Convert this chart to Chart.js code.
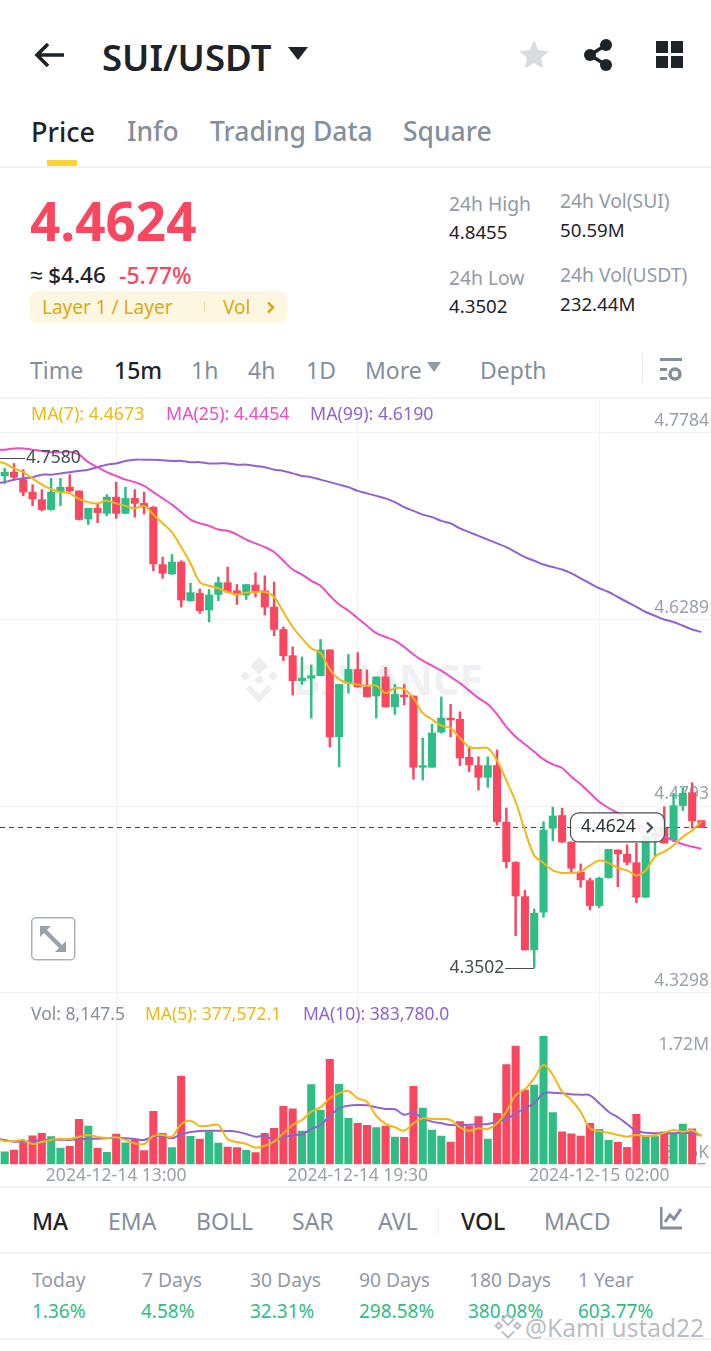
<!DOCTYPE html>
<html>
<head>
<meta charset="utf-8">
<title>SUI/USDT</title>
<script src="https://cdn.jsdelivr.net/npm/chart.js@4/dist/chart.umd.min.js"></script>
<style>
html, body { margin: 0; padding: 0; background: #fff; }
body { position: relative; width: 711px; height: 1351px; overflow: hidden; font-family: "Noto Sans", sans-serif; color: #1e2329; }
.t { position: absolute; transform: translateY(-50%); white-space: nowrap; line-height: 1; }
.grey { color: #848e9c; }
.lab { color: #929aa5; font-size: 19.3px; }
.val { font-size: 18.7px; }
.tf { font-size: 23px; color: #848e9c; }
.ind { font-size: 23px; color: #848e9c; }
.up { color: #2ebd85; font-size: 19px; }
.dark { color: #1e2329; font-weight: 500; }
.rule { position: absolute; left: 0; width: 711px; height: 2px; background: #f1f2f3; }
canvas { position: absolute; left: 0; }
svg { position: absolute; }
</style>
</head>
<body>

<!-- header -->
<svg style="left:33px;top:40px" width="34" height="30" viewBox="0 0 34 30"><path d="M31 15H4M15 4L4 15l11 11" fill="none" stroke="#1e2329" stroke-width="3.6"/></svg>
<span class="t" style="left:102px;top:57px;font-size:36.6px;font-weight:600">SUI/USDT</span>
<svg style="left:288px;top:46px" width="20" height="15"><path d="M0 1h20L10 14z" fill="#1e2329"/></svg>
<svg style="left:518px;top:39px" width="32" height="32" viewBox="0 0 24 24"><path d="M12 1l3.3 7.2 7.7.9-5.7 5.2 1.6 7.7L12 18.1 5.100 22l1.600-7.700L1 9.100l7.700-.9z" fill="#d8dce1"/></svg>
<svg style="left:582px;top:38px" width="32" height="34" viewBox="0 0 32 34"><path d="M24 7L8 17l16 10" fill="none" stroke="#1e2329" stroke-width="3.500"/><circle cx="24" cy="7" r="6" fill="#1e2329"/><circle cx="8" cy="17" r="6" fill="#1e2329"/><circle cx="24" cy="27" r="6" fill="#1e2329"/></svg>
<svg style="left:656px;top:41px" width="27" height="27"><path d="M0 0h12v12H0zM15 0h12v12H15zM0 15h12v12H0zM15 15h12v12H15z" fill="#1e2329"/></svg>

<span class="t dark" style="left:31px;top:131px;font-size:27px">Price</span>
<span class="t grey" style="left:127px;top:131px;font-size:26.5px;font-weight:500">Info</span>
<span class="t grey" style="left:210px;top:131px;font-size:26.5px;font-weight:500">Trading Data</span>
<span class="t grey" style="left:403px;top:131px;font-size:26.5px;font-weight:500">Square</span>
<div style="position:absolute;left:47px;top:160px;width:30px;height:6px;background:#fcd535"></div>
<div class="rule" style="top:166px"></div>

<!-- ticker block -->
<span class="t" style="left:30px;top:220px;font-size:53px;font-weight:700;color:#f9475f">4.4624</span>
<span class="t dark" style="left:30px;top:275px;font-size:22.5px">≈ $4.46</span>
<span class="t" style="left:119px;top:275px;font-size:23px;font-weight:500;color:#f9475f">-5.77%</span>
<div style="position:absolute;left:30px;top:291px;width:257px;height:32px;border-radius:8px;background:#fdf6e0"></div>
<span class="t" style="left:42px;top:307px;font-size:19px;color:#dcaa12">Layer 1 / Layer</span>
<div style="position:absolute;left:204px;top:302px;width:1px;height:10px;background:#eadfb4"></div>
<span class="t" style="left:223px;top:307px;font-size:19px;color:#dcaa12">Vol</span>
<svg style="left:266px;top:301px" width="10" height="13"><path d="M2 1.500L7 6.500 2 11.500" fill="none" stroke="#dcaa12" stroke-width="2.600"/></svg>

<span class="t lab" style="left:449px;top:204px">24h High</span>
<span class="t val" style="left:449px;top:232px">4.8455</span>
<span class="t lab" style="left:560px;top:201px">24h Vol(SUI)</span>
<span class="t val" style="left:560px;top:230px">50.59M</span>
<span class="t lab" style="left:449px;top:278px">24h Low</span>
<span class="t val" style="left:449px;top:306px">4.3502</span>
<span class="t lab" style="left:560px;top:275px">24h Vol(USDT)</span>
<span class="t val" style="left:560px;top:304px">232.44M</span>

<!-- timeframes -->
<span class="t tf" style="left:30px;top:370px">Time</span>
<span class="t tf dark" style="left:114px;top:370px">15m</span>
<span class="t tf" style="left:191px;top:370px">1h</span>
<span class="t tf" style="left:248px;top:370px">4h</span>
<span class="t tf" style="left:306px;top:370px">1D</span>
<span class="t tf" style="left:365px;top:370px">More</span>
<svg style="left:427px;top:362px" width="14" height="11"><path d="M0 0h14L7 10z" fill="#929aa5"/></svg>
<span class="t tf" style="left:480px;top:370px">Depth</span>
<div style="position:absolute;left:642px;top:355px;width:1px;height:27px;background:#e6e8ea"></div>
<svg style="left:659px;top:357px" width="25" height="26"><path d="M1 1h22v3H1zM1 11h7v3H1zM1 20h7v3H1z" fill="#848e9c"/><circle cx="16" cy="17" r="5" fill="none" stroke="#848e9c" stroke-width="3.500"/></svg>
<div class="rule" style="top:397px"></div>

<!-- watermark sits under the transparent canvases -->
<svg style="left:235px;top:656px" width="48" height="48" viewBox="0 0 48 48"><path d="M24 1l9 9-9 9-9-9zM10 15l5 5-5 5-5-5zM38 15l5 5-5 5-5-5zM24 19l5 5-5 5-5-5zM15 29l9 9 9-9 4 4-13 14-13-14z" fill="#eceef1"/></svg>
<span class="t" style="left:293px;top:680px;font-size:41.5px;font-weight:700;color:#eef0f3">BINANCE</span>

<canvas id="priceChart" width="711" height="595" style="top:400px"></canvas>
<canvas id="volChart" width="711" height="190" style="top:995px"></canvas>

<span class="t" style="left:31px;top:414px;font-size:17.8px;color:#f0b90b">MA(7): 4.4673</span>
<span class="t" style="left:166px;top:414px;font-size:17.8px;color:#ec4cc4">MA(25): 4.4454</span>
<span class="t" style="left:310px;top:414px;font-size:17.8px;color:#9163d0">MA(99): 4.6190</span>

<svg style="left:31px;top:917px" width="45" height="44"><rect x="0.750" y="0.750" width="43" height="42" rx="4" fill="#fff" stroke="#a9afb9" stroke-width="1.500"/><path d="M9 9h11l-4 4 15 15 4-4v11H24l4-4-15-15-4 4z" fill="#99a1ae"/></svg>

<span class="t grey" style="left:31px;top:1014px;font-size:17.5px">Vol: 8,147.5</span>
<span class="t" style="left:145px;top:1014px;font-size:17.5px;color:#f0b90b">MA(5): 377,572.1</span>
<span class="t" style="left:303px;top:1014px;font-size:17.5px;color:#9163d0">MA(10): 383,780.0</span>

<!-- indicators -->
<div class="rule" style="top:1186px"></div>
<span class="t ind dark" style="left:32px;top:1221px">MA</span>
<span class="t ind" style="left:108px;top:1221px">EMA</span>
<span class="t ind" style="left:196px;top:1221px">BOLL</span>
<span class="t ind" style="left:292px;top:1221px">SAR</span>
<span class="t ind" style="left:378px;top:1221px">AVL</span>
<div style="position:absolute;left:438px;top:1207px;width:1px;height:28px;background:#eceef0"></div>
<span class="t ind dark" style="left:461px;top:1221px">VOL</span>
<span class="t ind" style="left:544px;top:1221px">MACD</span>
<svg style="left:660px;top:1207px" width="23" height="23"><path d="M1 0v21h21" fill="none" stroke="#848e9c" stroke-width="3"/><path d="M5 15l5-7 4 4 7-10" fill="none" stroke="#848e9c" stroke-width="3"/></svg>
<div class="rule" style="top:1252px"></div>

<span class="t lab" style="left:32px;top:1280px">Today</span>
<span class="t lab" style="left:142px;top:1280px">7 Days</span>
<span class="t lab" style="left:250px;top:1280px">30 Days</span>
<span class="t lab" style="left:359px;top:1280px">90 Days</span>
<span class="t lab" style="left:469px;top:1280px">180 Days</span>
<span class="t lab" style="left:578px;top:1280px">1 Year</span>
<span class="t up" style="left:32px;top:1311px">1.36%</span>
<span class="t up" style="left:141px;top:1311px">4.58%</span>
<span class="t up" style="left:250px;top:1311px">32.31%</span>
<span class="t up" style="left:359px;top:1311px">298.58%</span>
<span class="t up" style="left:468px;top:1311px">380.08%</span>
<span class="t up" style="left:578px;top:1311px">603.77%</span>
<div class="rule" style="top:1338px"></div>

<svg style="left:493px;top:1311px" width="30" height="32" viewBox="0 0 48 48"><path d="M24 3l9 9-9 9-9-9zM9 17l5 5-5 5-5-5zM39 17l5 5-5 5-5-5zM14 31l10 10 10-10" fill="none" stroke="#b9bec5" stroke-width="3"/></svg>
<span class="t" style="left:525px;top:1328px;font-size:24.5px;color:rgba(125,132,142,.55)">@Kami ustad22</span>

<script>
// first entry is the candle just off the left edge
const opens = [4.748,4.744,4.747,4.741,4.731,4.725,4.717,4.731,4.735,4.732,4.7095,4.718,4.714,4.727,4.714,4.726,4.722,4.719,4.673,4.6655,4.675,4.644,4.650,4.6366,4.649,4.6585,4.652,4.6486,4.6566,4.652,4.639,4.621,4.600,4.580,4.582,4.584,4.6046,4.535,4.578,4.589,4.575,4.5677,4.583,4.559,4.5685,4.5677,4.5106,4.5106,4.5387,4.550,4.549,4.5186,4.512,4.5026,4.512,4.4666,4.4345,4.407,4.3643,4.3945,4.4618,4.472,4.4508,4.4265,4.4198,4.3998,4.4222,4.4444,4.441,4.4342,4.4065,4.4538,4.4618,4.4524,4.4799,4.4903,4.4679];
const highs = [4.758,4.750,4.754,4.749,4.737,4.733,4.742,4.742,4.745,4.732,4.718,4.722,4.729,4.739,4.735,4.733,4.731,4.7194,4.679,4.681,4.676,4.658,4.6534,4.653,4.663,4.671,4.657,4.657,4.6665,4.664,4.659,4.623,4.607,4.599,4.5926,4.613,4.6046,4.577,4.601,4.6024,4.5886,4.583,4.5907,4.577,4.577,4.5677,4.534,4.545,4.567,4.561,4.555,4.526,4.519,4.519,4.5245,4.478,4.435,4.412,4.397,4.467,4.4786,4.4778,4.4508,4.4332,4.4217,4.4225,4.4449,4.4444,4.4484,4.4498,4.4556,4.463,4.479,4.4898,4.4938,4.4983,4.4679];
const lows = [4.744,4.738,4.741,4.728,4.720,4.716,4.7165,4.720,4.731,4.7087,4.705,4.7066,4.712,4.710,4.7135,4.711,4.7135,4.668,4.662,4.665,4.639,4.6436,4.634,4.627,4.644,4.6505,4.641,4.645,4.647,4.6326,4.616,4.596,4.5685,4.577,4.550,4.5838,4.527,4.511,4.570,4.5747,4.567,4.550,4.5587,4.553,4.5605,4.501,4.5004,4.5106,4.538,4.535,4.512,4.507,4.4924,4.4946,4.4644,4.430,4.3757,4.3643,4.3502,4.3905,4.4518,4.4502,4.427,4.4145,4.3963,4.3982,4.4217,4.415,4.4324,4.4022,4.4065,4.4396,4.4498,4.451,4.476,4.4618,4.4624];
const closes = [4.752,4.747,4.743,4.731,4.7255,4.717,4.731,4.735,4.732,4.7091,4.718,4.7146,4.727,4.714,4.726,4.722,4.719,4.6735,4.666,4.675,4.6446,4.6505,4.636,4.6486,4.6585,4.651,4.6486,4.657,4.652,4.639,4.621,4.600,4.580,4.582,4.584,4.6046,4.535,4.577,4.589,4.575,4.567,4.583,4.559,4.569,4.567,4.5106,4.512,4.538,4.550,4.5485,4.518,4.5125,4.5026,4.512,4.467,4.435,4.4075,4.3643,4.3937,4.4604,4.4716,4.4508,4.4297,4.4204,4.3998,4.4217,4.4449,4.4412,4.4345,4.4065,4.4556,4.4572,4.4498,4.4799,4.4898,4.4676,4.4624];

const ma7 = [4.756,4.754,4.750,4.747,4.742,4.737,4.7335,4.731,4.730,4.7255,4.723,4.722,4.724,4.722,4.720,4.718,4.720,4.713,4.706,4.699,4.687,4.674,4.659,4.656,4.654,4.651,4.649,4.6505,4.651,4.651,4.647,4.635,4.623,4.614,4.606,4.602,4.589,4.581,4.578,4.577,4.576,4.576,4.570,4.574,4.573,4.566,4.554,4.549,4.544,4.542,4.534,4.527,4.526,4.526,4.516,4.500,4.483,4.460,4.440,4.434,4.428,4.426,4.426,4.427,4.432,4.436,4.434,4.430,4.428,4.424,4.428,4.439,4.443,4.448,4.455,4.460,4.4673];
const ma25 = [4.765,4.765,4.766,4.766,4.765,4.764,4.763,4.763,4.7634,4.761,4.755,4.751,4.747,4.744,4.741,4.739,4.736,4.731,4.726,4.721,4.715,4.709,4.706,4.704,4.701,4.700,4.697,4.693,4.690,4.687,4.683,4.676,4.669,4.665,4.660,4.656,4.648,4.641,4.636,4.630,4.624,4.618,4.615,4.612,4.607,4.601,4.596,4.592,4.588,4.583,4.578,4.572,4.566,4.561,4.553,4.543,4.535,4.529,4.523,4.517,4.513,4.510,4.503,4.497,4.490,4.483,4.478,4.474,4.469,4.465,4.461,4.457,4.455,4.452,4.449,4.447,4.4454];
const ma99 = [4.738,4.739,4.741,4.742,4.743,4.745,4.745,4.746,4.747,4.748,4.749,4.751,4.753,4.754,4.756,4.757,4.757,4.757,4.7565,4.756,4.756,4.755,4.755,4.754,4.754,4.754,4.753,4.753,4.752,4.751,4.749,4.748,4.746,4.744,4.743,4.741,4.739,4.737,4.735,4.732,4.730,4.728,4.726,4.723,4.719,4.716,4.713,4.711,4.708,4.706,4.702,4.699,4.696,4.693,4.690,4.687,4.683,4.679,4.676,4.673,4.671,4.669,4.666,4.662,4.658,4.654,4.651,4.647,4.643,4.639,4.635,4.632,4.629,4.627,4.624,4.621,4.6190];

const volumes = [300000,169000,192000,290000,384000,417000,371000,219000,242000,605000,515000,215000,161000,407000,290000,327000,183000,712000,417000,223000,1187000,376000,340000,438000,286000,232000,223000,188000,156000,417000,484000,779000,747000,447000,1070000,726000,1411000,1075000,618000,551000,524000,492000,515000,367000,363000,1048000,757000,461000,380000,300000,573000,515000,640000,340000,685000,1339000,1590000,999000,1066000,1720000,694000,438000,411000,380000,551000,470000,323000,296000,228000,672000,384000,371000,438000,407000,542000,478000,8147.5];
const volMa5 = [350000,313000,313000,327000,273000,300000,327000,344000,340000,371000,394000,367000,353000,363000,327000,282000,273000,380000,394000,371000,542000,586000,515000,519000,528000,336000,300000,273000,223000,250000,304000,417000,528000,595000,707000,766000,887000,954000,985000,887000,841000,649000,542000,497000,452000,551000,618000,609000,609000,595000,497000,452000,484000,474000,551000,707000,931000,1008000,1156000,1335000,1200000,976000,864000,707000,484000,448000,425000,394000,371000,394000,380000,390000,425000,461000,438000,457000,377572.1];
const volMa10 = [350000,327000,304000,304000,313000,323000,327000,331000,327000,336000,344000,344000,349000,358000,349000,340000,327000,371000,384000,349000,407000,434000,448000,452000,452000,448000,438000,407000,371000,384000,327000,358000,394000,403000,474000,528000,653000,753000,788000,797000,793000,766000,743000,739000,667000,694000,618000,573000,551000,528000,528000,532000,538000,542000,573000,605000,685000,753000,820000,954000,962000,954000,941000,935000,927000,820000,707000,632000,542000,448000,425000,417000,417000,417000,425000,417000,383780];

const priceTicks = [4.7784, 4.6289, 4.4793, 4.3298];
const lastPrice = 4.4624;
const periodHigh = 4.7580;
const periodLow = 4.3502;

const timeTickIndex = [12, 38, 64];
const timeTickLabels = ["2024-12-14 13:00", "2024-12-14 19:30", "2024-12-15 02:00"];

const GREEN = "#2ebd85";
const RED = "#f9475f";
const GOLD = "#f2b714";
const PINK = "#ec4cc4";
const PURPLE = "#9163d0";
const GRID = "#f1f2f4";
const TICK = "#9aa1ac";
const FONT = '"Noto Sans", sans-serif';

const xs = opens.map((_, i) => i - 1);
const barColors = opens.map((o, i) => closes[i] >= o ? GREEN : RED);
const xMin = -0.506;
const xMax = 76.03;

function series(values) {
    return values.map((v, i) => ({ x: xs[i], y: v }));
}

function lineSet(values, color, yAxisID) {
    return {
        type: "line", data: series(values), borderColor: color, borderWidth: 2,
        pointRadius: 0, tension: 0.35, order: 0, yAxisID: yAxisID || "y"
    };
}

// mirrored labels must not eat into the scale's pixel range
function flatAxis(s) {
    s.width = 0;
    s.paddingTop = 0;
    s.paddingBottom = 0;
}

function timeAxis(showLabels) {
    return {
        type: "linear", min: xMin, max: xMax, offset: false,
        afterBuildTicks: s => { s.ticks = timeTickIndex.map(v => ({ value: v })); },
        afterFit: s => { s.height = showLabels ? 20.7 : 0; s.paddingLeft = 0; s.paddingRight = 0; },
        grid: { color: GRID, drawTicks: false, lineWidth: 1.2, offset: false },
        border: { display: false },
        ticks: {
            display: showLabels, autoSkip: false, maxRotation: 0, padding: 1,
            color: TICK, font: { family: FONT, size: 17.5 },
            callback: v => timeTickLabels[timeTickIndex.indexOf(v)]
        }
    };
}

// leader labels for the high and low, and the last price pill
const pricePlugin = {
    id: "priceMarks",
    afterDatasetsDraw(chart) {
        const c = chart.ctx, x = chart.scales.x, y = chart.scales.y;
        c.save();
        c.font = "17.5px " + FONT;
        c.strokeStyle = "#474d57";
        c.fillStyle = "#474d57";
        c.lineWidth = 1;
        c.textBaseline = "middle";

        const hy = Math.round(y.getPixelForValue(periodHigh)) + 0.5;
        c.beginPath(); c.moveTo(0, hy); c.lineTo(25, hy); c.stroke();
        c.textAlign = "left";
        c.fillText("4.7580", 26, hy);

        const lx = x.getPixelForValue(57), ly = Math.round(y.getPixelForValue(periodLow)) + 0.5;
        c.beginPath(); c.moveTo(lx, ly); c.lineTo(lx - 29, ly); c.stroke();
        c.textAlign = "right";
        c.fillText("4.3502", lx - 30, ly);

        const py = y.getPixelForValue(lastPrice);
        c.beginPath();
        c.roundRect(570.5, py - 14.5, 94, 29, 8);
        c.fillStyle = "rgba(255,255,255,0.88)";
        c.fill();
        c.strokeStyle = "#474d57";
        c.lineWidth = 1.2;
        c.stroke();
        c.fillStyle = "#2b3139";
        c.textAlign = "left";
        c.fillText("4.4624", 581, py);
        c.lineWidth = 2.2;
        c.beginPath(); c.moveTo(647, py - 5); c.lineTo(652, py); c.lineTo(647, py + 5); c.stroke();
        c.restore();
    }
};

new Chart(document.getElementById("priceChart"), {
    type: "bar",
    data: {
        datasets: [
            { type: "line", data: [{ x: xMin, y: lastPrice }, { x: xMax, y: lastPrice }], borderColor: "#3a3f47", borderWidth: 1, borderDash: [5, 4], pointRadius: 0, order: 3 },
            lineSet(ma7, GOLD), lineSet(ma25, PINK), lineSet(ma99, PURPLE),
            { data: xs.map((x, i) => ({ x: x, y: [opens[i], closes[i]] })), backgroundColor: barColors, barThickness: 7.4, grouped: false, order: 1 },
            { data: xs.map((x, i) => ({ x: x, y: [lows[i], highs[i]] })), backgroundColor: barColors, barThickness: 1.8, grouped: false, order: 2 }
        ]
    },
    options: {
        responsive: false, animation: false, devicePixelRatio: 1,
        layout: { padding: 0, autoPadding: false },
        plugins: { legend: { display: false }, tooltip: { enabled: false } },
        scales: {
            x: timeAxis(false),
            y: {
                position: "right", min: 4.3282, max: 4.8048,
                afterBuildTicks: s => { s.ticks = priceTicks.map(v => ({ value: v })); },
                afterFit: flatAxis,
                grid: { color: GRID, drawTicks: false, lineWidth: 1.2 },
                border: { display: false },
                ticks: { mirror: true, padding: -2, labelOffset: -12, color: TICK, font: { family: FONT, size: 17.5 }, callback: v => v.toFixed(4) }
            }
        }
    },
    plugins: [pricePlugin]
});

new Chart(document.getElementById("volChart"), {
    type: "bar",
    data: {
        datasets: [
            lineSet(volMa5, GOLD), lineSet(volMa10, PURPLE),
            { data: xs.map((x, i) => ({ x: x, y: volumes[i] })), backgroundColor: barColors, barThickness: 7.4, grouped: false, order: 1 }
        ]
    },
    options: {
        responsive: false, animation: false, devicePixelRatio: 1,
        layout: { padding: 0, autoPadding: false },
        plugins: { legend: { display: false }, tooltip: { enabled: false } },
        scales: {
            x: timeAxis(true),
            y: {
                position: "right", min: 0, max: 2275000,
                afterBuildTicks: s => { s.ticks = [{ value: 1720000 }]; },
                afterFit: flatAxis,
                grid: { display: false }, border: { display: false },
                ticks: { mirror: true, padding: -2, labelOffset: 9, color: TICK, font: { family: FONT, size: 17.5 }, callback: () => "1.72M" }
            },
            yLow: {
                position: "right", min: 0, max: 2275000,
                afterBuildTicks: s => { s.ticks = [{ value: 8147.5 }]; },
                afterFit: flatAxis,
                grid: { display: false }, border: { display: false },
                ticks: { mirror: true, padding: -2, labelOffset: -11, color: TICK, font: { family: FONT, size: 17.5 }, callback: () => "8.15K" }
            }
        }
    }
});
</script>
</body>
</html>
